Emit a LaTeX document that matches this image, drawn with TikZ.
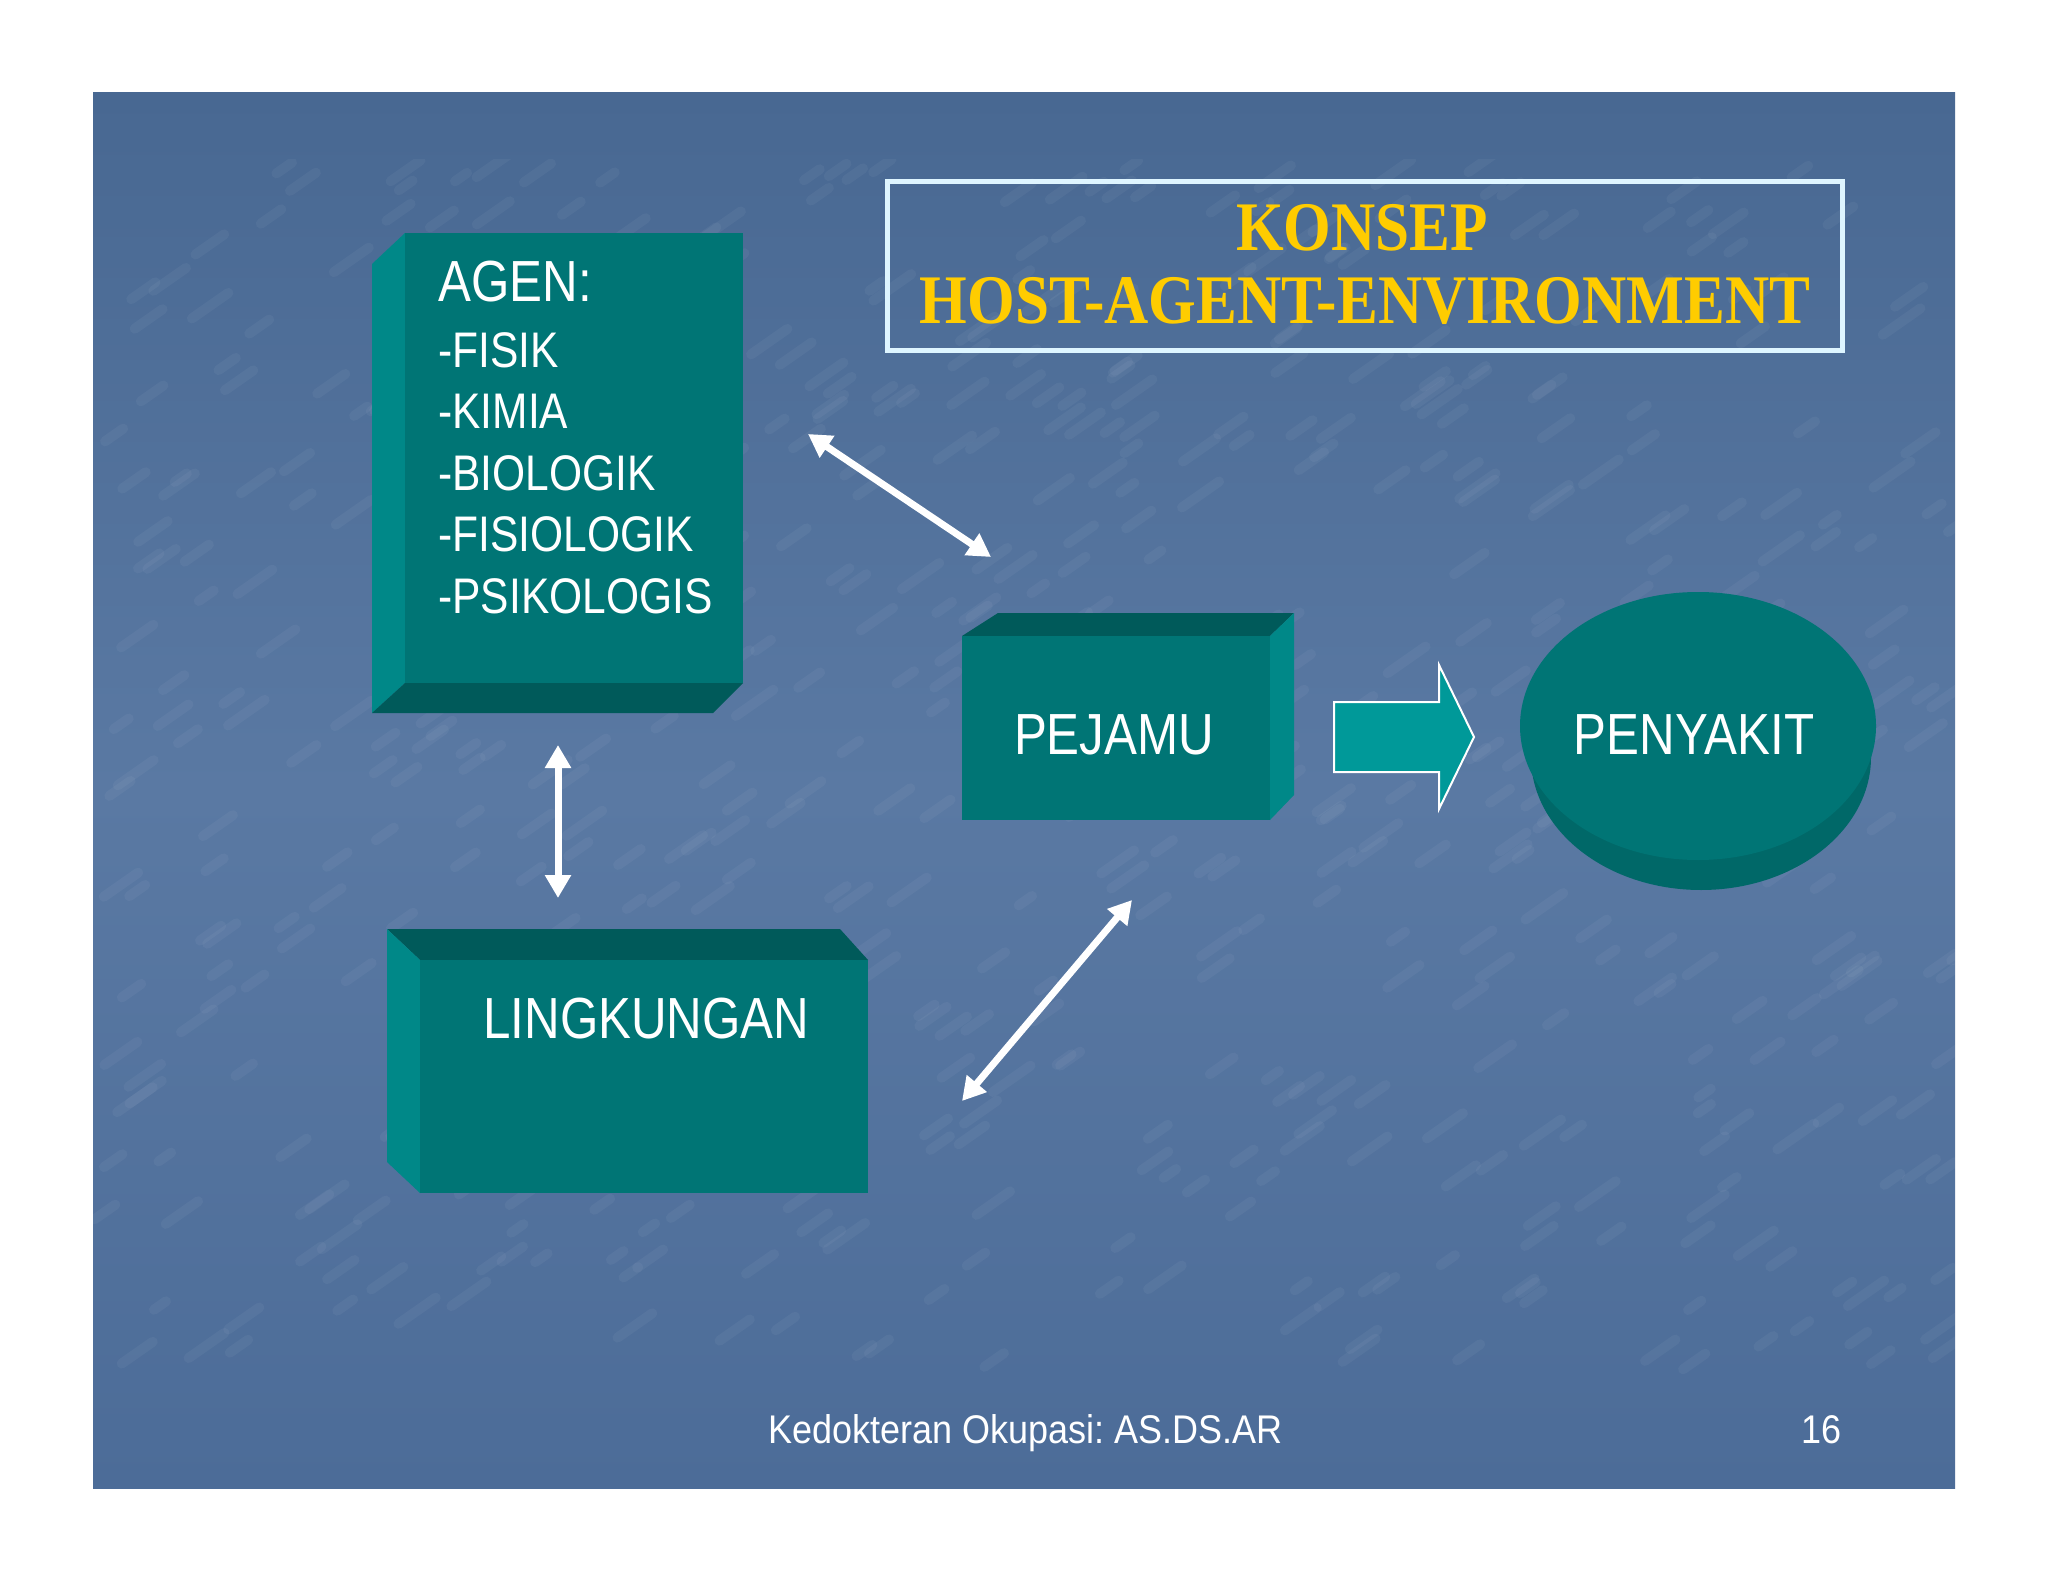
\documentclass[tikz,border=0pt]{standalone}
\usepackage{fontspec}
\setmainfont[FakeStretch=0.85]{Liberation Sans}
\newfontfamily\kakifont[FakeStretch=0.9]{Liberation Sans}
\newfontfamily\judulfont[FakeStretch=0.88]{Liberation Serif}
\usetikzlibrary{arrows.meta,shapes.geometric}
\definecolor{slidetop}{RGB}{72,104,146}
\definecolor{slidemid}{RGB}{90,121,163}
\definecolor{slidebot}{RGB}{76,108,152}
\definecolor{tealfront}{RGB}{0,117,117}
\definecolor{tealside}{RGB}{0,136,136}
\definecolor{tealdark}{RGB}{0,90,90}
\definecolor{tealsisi}{RGB}{0,104,104}
\definecolor{tealarrow}{RGB}{0,153,153}
\definecolor{judulkuning}{RGB}{255,204,0}
\definecolor{judulrand}{RGB}{222,245,255}
\frenchspacing

\begin{document}
\begin{tikzpicture}[x=0.5pt,y=-0.5pt,
  muka/.style={fill=tealfront,inner sep=0pt,outer sep=0pt},
  tulis/.style={text=white,inner sep=0pt,font=\fontsize{25}{30}\selectfont},
  besar/.style={text=white,inner sep=0pt,font=\fontsize{29}{35}\selectfont},
  footer/.style={text=white,inner sep=0pt,font=\kakifont\fontsize{20}{24}\selectfont},
  judultxt/.style={text=judulkuning,inner sep=0pt,font=\judulfont\bfseries\fontsize{34.8}{40}\selectfont},
  duo/.style={draw=white,line width=3.5pt,{Triangle[length=11.5pt,width=12.5pt]}-{Triangle[length=11.5pt,width=12.5pt]}}]
  % kertas dan latar slide
  \path[use as bounding box,fill=white] (0,0) rectangle (2048,1582);
  \shade[top color=slidetop,bottom color=slidebot,middle color=slidemid] (93,93) rectangle (1955,1488);
  % tekstur plester, tipis saja
  \begin{scope}
    \clip (93,160) rectangle (1955,1380);
    \pgfmathsetseed{11}
    \foreach \k in {1,...,600}{
      \pgfmathsetmacro\px{93+1862*rnd}
      \pgfmathsetmacro\py{170+1200*rnd}
      \pgfmathsetmacro\dx{12+26*rnd}
      \draw[white,opacity=0.045,line width=5pt,line cap=round] (\px,\py) -- ++(\dx,{-0.7*\dx});
    }
  \end{scope}

  % judul
  \node[draw=judulrand,line width=2.5pt,minimum width=477.5pt,minimum height=84.5pt,inner sep=0pt] (judul) at (1365,266) {};
  \node[judultxt,anchor=base] (judul1) at (1362,251) {KONSEP};
  \node[judultxt,anchor=base] (judul2) at (1365,324) {HOST-AGENT-ENVIRONMENT};

  % agen: sisi kiri dan bawah terlihat
  \fill[tealside] (372,264) -- (405,233) -- (405,683) -- (372,713) -- cycle;
  \fill[tealdark] (372,713) -- (405,683) -- (743,683) -- (713,713) -- cycle;
  \node[muka,minimum width=169pt,minimum height=225pt] (agen) at (574,458) {};
  \node[besar,anchor=base west] (agen0) at (438,302) {AGEN:};
  \foreach \t [count=\i] in {FISIK,KIMIA,BIOLOGIK,FISIOLOGIK,PSIKOLOGIS}
    \node[tulis,anchor=base west] (agen\i) at (438,{306+61.5*\i}) {-\t};

  % lingkungan: sisi atas dan kiri
  \fill[tealdark] (387,929) -- (840,929) -- (868,960) -- (420,960) -- cycle;
  \fill[tealside] (387,929) -- (420,960) -- (420,1193) -- (387,1162) -- cycle;
  \node[muka,minimum width=224pt,minimum height=116.5pt] (lingk) at (644,1076.5) {};
  \node[besar,anchor=base west] (lingktxt) at (483,1038) {LINGKUNGAN};

  % pejamu: sisi atas dan kanan
  \fill[tealdark] (962,636) -- (998,613) -- (1294,613) -- (1270,636) -- cycle;
  \fill[tealside] (1270,636) -- (1294,613) -- (1294,795) -- (1270,820) -- cycle;
  \node[muka,minimum width=154pt,minimum height=92pt] (pejamu) at (1116,728) {};
  \node[besar,anchor=base] (pejamutxt) at (1114,754) {PEJAMU};

  % penyakit (cakram)
  \fill[tealsisi] (1701,757) ellipse [x radius=170,y radius=133];
  \node[muka,ellipse,minimum width=178pt,minimum height=134pt] (penyakit) at (1698,726) {};
  \node[besar,anchor=base] (penyakittxt) at (1694,754) {PENYAKIT};

  % panah blok pejamu -> penyakit
  \draw[white,line width=1pt,fill=tealarrow] (1334,702) -- (1439,702) -- (1439,665) -- (1474,737)
     -- (1439,809) -- (1439,772) -- (1334,772) -- cycle;

  % panah dua arah
  \coordinate (ap) at (808,434);  \coordinate (pa) at (991,557);
  \coordinate (al) at (558,745);  \coordinate (la) at (558,898);
  \coordinate (pl) at (1132,900); \coordinate (lp) at (962,1101);
  \draw[duo] (ap) -- (pa);
  \draw[duo] (al) -- (la);
  \draw[duo] (pl) -- (lp);

  % kaki slide
  \node[footer,anchor=base west] (kaki) at (768,1443) {Kedokteran Okupasi: AS.DS.AR};
  \node[footer,anchor=base east] (hal) at (1842,1443) {16};
\end{tikzpicture}
\end{document}
